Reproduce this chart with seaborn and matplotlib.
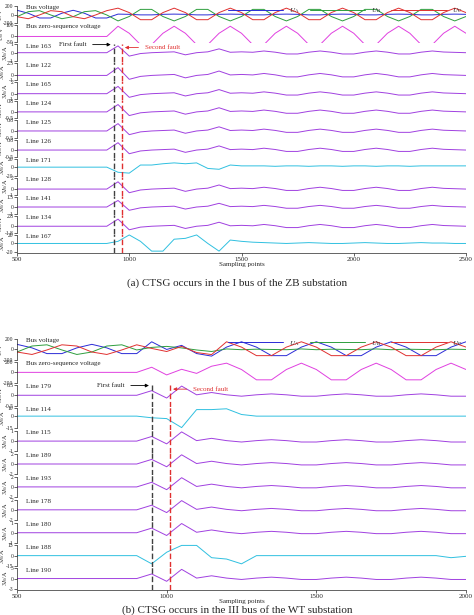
import numpy as np
import matplotlib
matplotlib.use("Agg")
import matplotlib.pyplot as plt
import seaborn as sns

sns.set_style("ticks")
plt.rcParams['font.family'] = ['Liberation Serif', 'DejaVu Serif']
plt.rcParams['mathtext.fontset'] = 'stix'

# ---------------- data: panel (a) ----------------
xa = list(range(500, 2501, 50))  # 41 points
a_UA = [100,31,-81,-81,31]*1 + [100,31,-81,-81] + [10,5,-8,-8,5]*6 + [10,5]
a_UB = [-50,67,91,-10,-98]*1 + [-50,67,91,-10] + [-150,-46,121,121,-46]*6 + [-150,-46]
a_UC = [-50,-98,-10,91,67]*1 + [-50,-98,-10,91] + [150,46,-121,-121,46]*6 + [150,46]
a_U0 = [0]*9 + [90,28,-72,-72,28]*6 + [90,28]
a_mag = [0]*9 + [0.8,-0.4,-0.1,0.0,0.05,0.1,-0.25,0.0,0.1,0.45,0.05,0.1,0.05,
                 0.2,0.06,-0.15,-0.15,0.06,0.2,0.06,-0.15,-0.15,0.06,0.2,0.06,-0.15,-0.15,0.06,0.2,0.08,0.04,0.0]
a_171 = [0]*9 + [-12,-14,5,5,8,10,8,10,-3,-5,5,3,3,3,2,3,3,2,3,3,2,3,3,2,3,3,2,3,3,3,3,3]
a_167 = [0]*9 + [5,20,5,-18,-18,10,12,20,0,-18,8,5,3,2,1,0,1,2,1,0,0,1,2,1,0,0,1,2,1,1,0,0]
a_names = ['163','122','165','124','125','126','171','128','141','134','167']
a_ticks = [[-1,0,1],[-1,0,2.5],[-1,0,2],[-0.5,0,0.8],[-0.5,0,0.8],[-0.5,0,0.8],
           [-20,0,20],[-1,0,2],[-1,0,1.5],[-1.8,0,2.8],[-20,0,20]]
a_scale = [1.0,2.0,1.6,0.7,0.7,0.7,None,1.6,1.2,2.4,None]

# ---------------- data: panel (b) ----------------
xb = list(range(500, 2001, 50))  # 31 points
b_UA = [100,31,-81,-81,31,100,31,-81,-81] + [150,0,80,-80,-130] + [46,150,46,-121,-121]*3 + [46,150]
b_UB = [-50,67,91,-10,-98,-50,67,91,-10] + [40,60,30,-10,-40] + [10,-5,5,0,-5]*3 + [5,0]
b_UC = [-50,-98,-10,91,67,-50,-98,-10,91] + [20,-40,60,-60,-100] + [150,46,-121,-121,46]*3 + [150,46]
b_U0 = [0]*9 + [100,-50,60,-20,120] + [180,56,-146,-146,56]*3 + [180,56]
b_mag = [0]*9 + [0.5,-0.3,1.0,0.05,0.3,0.05] + [-0.1,0.05,0.15,0.05,-0.1]*3 + [-0.1]
b_114 = [0]*9 + [-2,-3,-14,8,8,9,2] + [0]*15
b_188 = [0]*9 + [-12,5,15,15,-3,-5,-12,0] + [0]*12 + [-3,-1]
b_names = ['179','114','115','189','193','178','180','188','190']
b_ticks = [[-0.5,0,0.5],[-15,0,10],[-1,0,1],[-2,0,2],[-2,0,2],[-2,0,2],[-1,0,1],[-15,0,15],[-3,0,3]]
b_scale = [0.45,None,0.9,1.8,1.8,1.8,0.9,None,2.7]

BLUE, GREEN, RED = '#2b2bd6', '#2e9e3e', '#e03030'
MAG, CYAN = '#a040e0', '#30c0e0'

fig = plt.figure(figsize=(4.74, 6.15), dpi=100)
W, H = 474, 615
L, R = 17, 466

def style(ax, ticks, label, ylab, last, xlim, xt):
    sns.despine(ax=ax, top=True, right=True, bottom=not last)
    span = ticks[-1] - ticks[0]
    ax.set_ylim(ticks[0] - 0.06 * span, ticks[-1] + 0.06 * span)
    ax.spines['left'].set_bounds(ticks[0], ticks[-1])
    ax.set_yticks(ticks)
    ax.set_yticklabels([f"{t:g}" for t in ticks], fontsize=4)
    ax.tick_params(axis='y', length=2, pad=0.5, width=0.5)
    ax.set_xlim(*xlim)
    ax.spines['left'].set_linewidth(0.5)
    if last:
        ax.set_xticks(xt)
        ax.set_xticklabels([str(v) for v in xt], fontsize=5)
        ax.tick_params(axis='x', length=2, pad=1, width=0.5)
        ax.spines['bottom'].set_linewidth(0.5)
        ax.set_xlabel('Sampling points', fontsize=5, labelpad=0)
    else:
        ax.set_xticks([])
    ax.set_ylabel(ylab, fontsize=4.5, labelpad=-0.5)
    ax.text(0.02, 0.98, label, transform=ax.transAxes, fontsize=5, va='top', ha='left')
    ax.patch.set_alpha(0)

def panel(top, bot, x, UA, UB, UC, U0, utk, u0tk, mag, cy, names, ticks, scales,
          cyan_names, xlim, xt, f1, f2, caption, capy):
    n = 2 + len(names)
    h = (bot - top) / n
    axes = []
    for i in range(n):
        ax = fig.add_axes([L / W, 1 - (top + (i + 1) * h) / H, (R - L) / W, h / H])
        axes.append(ax)
    ax = axes[0]
    for y, c, lab in [(UA, BLUE, '$U_\\mathrm{A}$'), (UB, GREEN, '$U_\\mathrm{B}$'), (UC, RED, '$U_\\mathrm{C}$')]:
        sns.lineplot(x=x, y=y, ax=ax, color=c, lw=0.7, label=lab)
    ax.legend(ncol=3, fontsize=5, frameon=False, loc='upper right', bbox_to_anchor=(1.0, 1.12),
              handlelength=8, columnspacing=1.5, borderpad=0, handletextpad=0.8)
    style(ax, utk, 'Bus voltage', '$U$/V', False, xlim, xt)
    sns.lineplot(x=x, y=U0, ax=axes[1], color='#e040e0', lw=0.7)
    style(axes[1], u0tk, 'Bus zero-sequence voltage', '$U_0$/V', False, xlim, xt)
    for j, nm in enumerate(names):
        ax = axes[2 + j]
        if nm in cyan_names:
            y = cy[nm]
            col = CYAN
        else:
            y = [v * scales[j] for v in mag]
            col = MAG
        sns.lineplot(x=x, y=y, ax=ax, color=col, lw=0.7)
        style(ax, ticks[j], f'Line {nm}', '$3I_0$/A', j == len(names) - 1, xlim, xt)
        for fx, c in [(f1, '#404040'), (f2, '#e03030')]:
            ax.axvline(fx, color=c, ls=(0, (4, 2)), lw=1.0, ymax=1.0 if j > 0 else 0.95)
    a = axes[2]
    a.annotate('First fault', xy=(f1, ticks[0][-1] * 0.95), xycoords='data',
               xytext=(f1 - (xlim[1]-xlim[0]) * 0.06, ticks[0][-1] * 0.95), textcoords='data',
               fontsize=5, va='center', ha='right',
               arrowprops=dict(arrowstyle='-|>', color='black', lw=0.6, mutation_scale=5))
    a.annotate('Second fault', xy=(f2, ticks[0][-1] * 0.6), xycoords='data',
               xytext=(f2 + (xlim[1]-xlim[0]) * 0.05, ticks[0][-1] * 0.6), textcoords='data',
               fontsize=5, va='center', ha='left', color=RED,
               arrowprops=dict(arrowstyle='-|>', color=RED, lw=0.6, mutation_scale=5))
    fig.text(0.5, 1 - capy / H, caption, ha='center', va='center', fontsize=8)

panel(5, 253, xa, a_UA, a_UB, a_UC, a_U0, [-200, 0, 200], [-50, 0, 100], a_mag,
      {'171': a_171, '167': a_167}, a_names, a_ticks, a_scale, ['171', '167'],
      (500, 2500), [500, 1000, 1500, 2000, 2500], 930, 968,
      '(a) CTSG occurs in the I bus of the ZB substation', 283)
panel(338, 590, xb, b_UA, b_UB, b_UC, b_U0, [-200, 0, 200], [-200, 0, 200], b_mag,
      {'114': b_114, '188': b_188}, b_names, b_ticks, b_scale, ['114', '188'],
      (500, 2000), [500, 1000, 1500, 2000], 950, 1012,
      '(b) CTSG occurs in the III bus of the WT substation', 610)

fig.savefig('out.png', dpi=100)
